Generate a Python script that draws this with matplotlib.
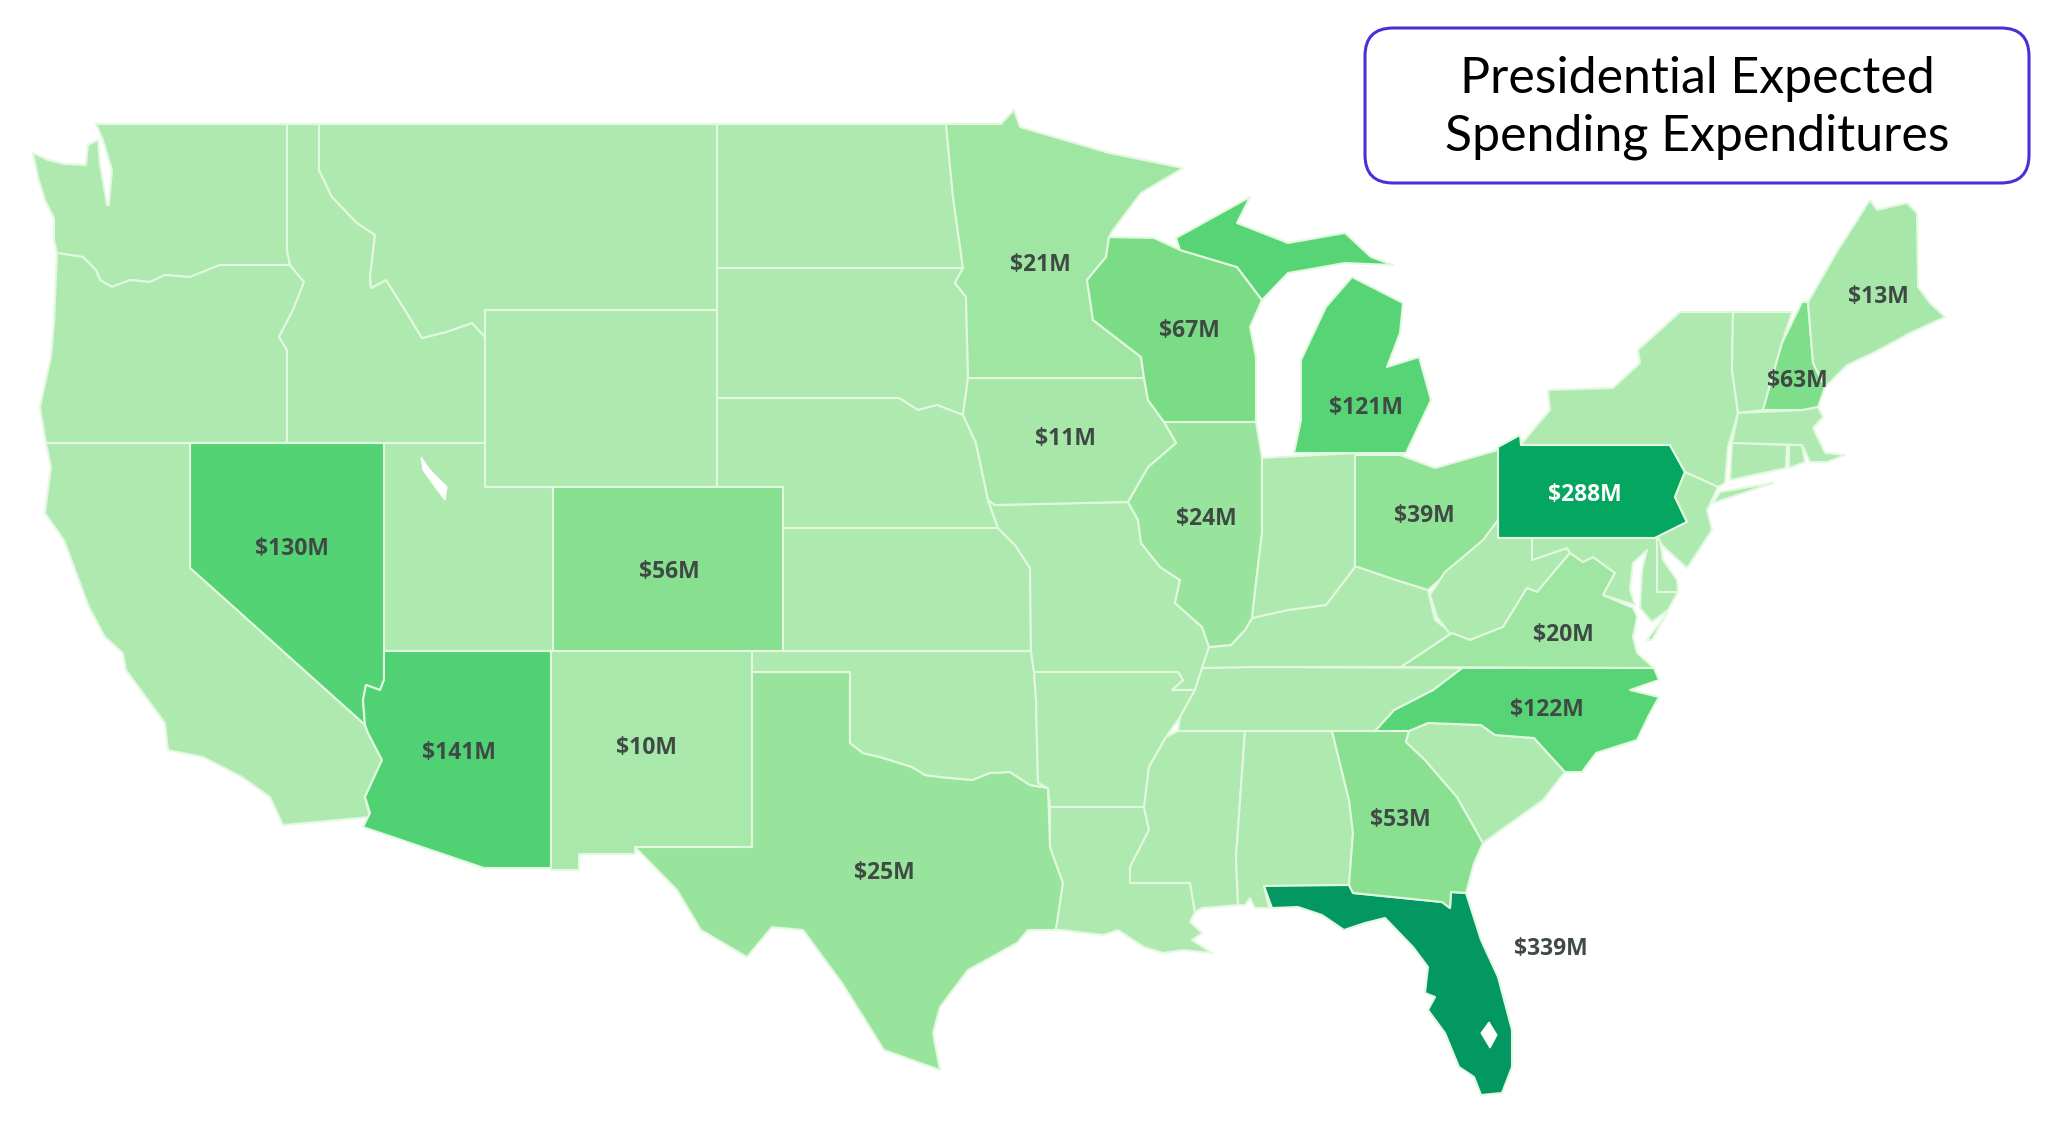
import matplotlib
matplotlib.use('Agg')
import matplotlib.pyplot as plt
from matplotlib.colors import LinearSegmentedColormap
from matplotlib.patches import FancyBboxPatch

# state outlines (picture pixels)
WA = [(96,124),(287,124),(287,250),(290,265),(220,265),(190,277),(165,275),(150,282),(130,280),(112,287),(100,280),(96,270),(83,257),(57,253),(54,240),(54,218),(45,200),(38,177),(33,153),(48,160),(64,164),(86,165),(88,145),(98,140),(100,165),(107,205),(109,205),(112,170),(103,140)]
OR = [(57,253),(83,257),(96,270),(100,280),(112,287),(130,280),(150,282),(165,275),(190,277),(220,265),(290,265),(304,282),(293,310),(279,337),(287,350),(287,443),(46,443),(40,407),(51,357),(54,323)]
ID = [(287,124),(319,124),(319,170),(332,197),(357,223),(375,235),(370,277),(371,288),(386,280),(405,310),(422,338),(446,332),(472,323),(485,337),(485,443),(287,443),(287,350),(279,337),(293,310),(304,282),(290,265),(287,250)]
MT = [(319,124),(717,124),(717,310),(485,310),(485,337),(472,323),(446,332),(422,338),(405,310),(386,280),(371,288),(370,277),(375,235),(357,223),(332,197),(319,170)]
WY = [(485,310),(717,310),(717,487),(485,487)]
ND = [(717,124),(946,124),(953,197),(963,268),(717,268)]
SD = [(717,268),(963,268),(955,283),(966,297),(968,378),(963,415),(937,405),(918,410),(899,398),(717,398)]
NE = [(717,398),(899,398),(918,410),(937,405),(963,415),(976,443),(988,500),(998,528),(783,528),(783,487),(717,487)]
CO = [(553,487),(783,487),(783,651),(553,651)]
UT = [(384,443),(485,443),(485,487),(553,487),(553,651),(384,651)]
NV = [(190,443),(384,443),(384,680),(380,690),(366,685),(363,700),(365,725),(190,568)]
CA = [(46,443),(190,443),(190,568),(365,725),(368,733),(382,760),(365,797),(370,817),(283,825),(270,797),(242,777),(203,757),(168,750),(165,723),(126,670),(123,653),(105,637),(89,607),(64,540),(45,513),(51,467)]
AZ = [(384,651),(551,651),(551,868),(484,868),(363,827),(370,813),(365,797),(382,760),(368,733),(365,725),(363,700),(366,685),(380,690),(384,680)]
NM = [(551,651),(752,651),(752,847),(635,847),(635,854),(579,854),(579,870),(551,870)]
TX = [(752,672),(850,672),(850,743),(863,753),(880,757),(912,767),(925,775),(940,777),(972,780),(990,773),(1010,772),(1030,785),(1048,788),(1050,847),(1063,883),(1056,930),(1028,930),(1017,943),(968,970),(940,1007),(933,1033),(940,1070),(884,1050),(842,983),(803,930),(772,927),(747,957),(701,930),(677,890),(635,847),(752,847)]
OK = [(752,651),(1031,651),(1034,672),(1036,700),(1038,783),(1048,788),(1030,785),(1010,772),(990,773),(972,780),(940,777),(925,775),(912,767),(880,757),(863,753),(850,743),(850,672),(752,672)]
KS = [(783,528),(998,528),(1015,545),(1030,568),(1031,651),(783,651)]
MO = [(995,505),(1128,502),(1138,520),(1141,543),(1160,567),(1180,580),(1175,603),(1202,627),(1209,647),(1202,668),(1195,690),(1172,690),(1183,680),(1178,672),(1034,672),(1031,651),(1030,568),(1015,545),(998,528),(988,500)]
AR = [(1034,672),(1178,672),(1183,680),(1172,690),(1195,690),(1180,717),(1166,737),(1149,767),(1144,807),(1050,807),(1048,788),(1038,783),(1036,700)]
LA = [(1050,807),(1144,807),(1149,830),(1130,867),(1130,883),(1190,883),(1195,912),(1190,922),(1202,933),(1192,940),(1212,953),(1183,950),(1163,953),(1144,947),(1118,930),(1103,935),(1062,930),(1056,930),(1063,883),(1050,847)]
MS = [(1178,731),(1245,731),(1236,857),(1238,905),(1202,908),(1195,912),(1190,883),(1130,883),(1130,867),(1149,830),(1144,807),(1149,767),(1166,737)]
AL = [(1245,731),(1332,731),(1349,800),(1353,833),(1349,885),(1264,886),(1269,908),(1255,908),(1250,898),(1245,905),(1238,905),(1236,857)]
FL = [(1264,886),(1349,885),(1353,893),(1442,902),(1450,908),(1451,892),(1466,893),(1481,940),(1498,977),(1512,1030),(1512,1067),(1502,1093),(1481,1095),(1474,1077),(1459,1067),(1445,1033),(1428,1010),(1435,997),(1425,993),(1428,967),(1413,947),(1385,918),(1365,923),(1344,930),(1322,915),(1298,907),(1272,908)]
GA = [(1332,731),(1409,731),(1406,742),(1425,760),(1457,797),(1483,843),(1474,863),(1466,893),(1451,892),(1450,908),(1442,902),(1353,893),(1349,885),(1353,833),(1349,800)]
SC = [(1409,731),(1428,723),(1481,725),(1495,735),(1534,738),(1565,772),(1543,800),(1505,827),(1483,843),(1457,797),(1425,760),(1406,742)]
NC = [(1375,731),(1394,710),(1433,690),(1462,668),(1654,668),(1659,680),(1630,690),(1659,697),(1649,715),(1637,740),(1596,753),(1582,772),(1565,772),(1534,738),(1495,735),(1481,725),(1428,723),(1409,731)]
TN = [(1202,668),(1250,667),(1462,668),(1433,690),(1394,710),(1375,731),(1178,731),(1180,717),(1195,690)]
KY = [(1209,647),(1231,645),(1245,630),(1252,618),(1288,610),(1326,605),(1355,567),(1358,567),(1396,580),(1428,590),(1435,620),(1452,633),(1401,667),(1250,667),(1202,668)]
IL = [(1164,422),(1256,422),(1262,458),(1262,533),(1256,583),(1252,618),(1245,630),(1231,645),(1209,647),(1202,627),(1175,603),(1180,580),(1160,567),(1141,543),(1138,520),(1128,502),(1148,467),(1176,443)]
IA = [(968,378),(1144,378),(1148,400),(1164,422),(1176,443),(1148,467),(1128,502),(995,505),(988,500),(976,443),(963,415)]
MN = [(946,124),(1001,124),(1014,110),(1020,127),(1109,153),(1183,168),(1141,193),(1113,230),(1109,237),(1106,257),(1087,280),(1093,320),(1141,357),(1144,378),(968,378),(966,297),(955,283),(963,268),(953,197)]
WI = [(1109,237),(1154,238),(1180,250),(1237,267),(1262,300),(1250,327),(1256,357),(1256,422),(1164,422),(1148,400),(1144,378),(1141,357),(1093,320),(1087,280),(1106,257)]
MI_UP = [(1176,238),(1250,197),(1237,223),(1288,243),(1345,233),(1371,257),(1393,265),(1345,263),(1288,273),(1262,300),(1237,267),(1180,250)]
MI_LP = [(1352,277),(1403,303),(1400,333),(1387,367),(1419,357),(1431,400),(1406,453),(1294,453),(1301,420),(1301,360),(1326,307)]
IN = [(1262,458),(1355,453),(1355,567),(1326,605),(1288,610),(1252,618),(1256,583),(1262,533)]
OH = [(1355,455),(1400,455),(1435,468),(1498,450),(1498,538),(1454,567),(1428,590),(1396,580),(1358,567),(1355,567)]
PA = [(1498,447),(1520,435),(1521,445),(1670,445),(1685,472),(1675,497),(1687,522),(1655,538),(1498,538)]
NY = [(1523,442),(1550,410),(1548,390),(1613,388),(1640,363),(1638,350),(1680,312),(1733,312),(1732,370),(1738,413),(1728,447),(1725,483),(1718,487),(1685,472),(1670,445),(1521,445)]
LONG_ISLAND = [(1720,492),(1773,483),(1713,503)]
NJ = [(1685,472),(1718,487),(1707,510),(1712,530),(1687,568),(1665,548),(1655,538),(1687,522),(1675,497)]
VT = [(1733,312),(1792,312),(1782,343),(1763,410),(1738,413),(1732,370)]
NH = [(1802,302),(1808,302),(1813,363),(1825,387),(1818,407),(1803,410),(1763,410),(1782,343)]
ME = [(1808,302),(1838,250),(1870,200),(1877,210),(1907,203),(1917,213),(1918,287),(1930,303),(1945,317),(1910,333),(1873,353),(1847,365),(1825,387),(1813,363)]
MA = [(1738,413),(1803,410),(1818,407),(1823,417),(1813,428),(1825,453),(1845,455),(1827,462),(1810,462),(1802,445),(1732,443)]
CT = [(1732,443),(1787,445),(1786,468),(1730,480)]
RI = [(1789,445),(1802,445),(1805,462),(1789,468)]
WV = [(1498,520),(1498,538),(1532,538),(1532,560),(1567,548),(1570,553),(1537,592),(1527,588),(1503,627),(1470,640),(1453,638),(1437,617),(1430,595),(1445,572),(1463,557),(1483,540)]
VA = [(1401,667),(1452,633),(1470,640),(1503,627),(1527,588),(1537,592),(1570,553),(1583,562),(1593,557),(1615,573),(1603,595),(1633,608),(1637,617),(1633,637),(1637,653),(1654,668)]
VA_SHORE = [(1647,640),(1667,613),(1652,640)]
MD = [(1532,538),(1657,538),(1657,592),(1678,592),(1668,610),(1652,622),(1640,608),(1642,570),(1647,550),(1633,563),(1630,590),(1635,605),(1603,595),(1615,573),(1593,557),(1583,562),(1570,553),(1567,548),(1532,560)]
DE = [(1657,538),(1660,540),(1663,560),(1677,580),(1678,592),(1657,592)]
SALT_LAKE = [(421,457),(430,470),(447,487),(445,500),(435,487),(423,470)]
OKEECHOBEE = [(1489,1022),(1481,1033),(1490,1048),(1497,1035)]

state_shapes = [WA, OR, ID, MT, WY, ND, SD, NE, CO, UT, NV, CA, AZ, NM, TX, OK, KS, MO, AR, LA, MS, AL, FL, GA, SC, NC, TN, KY, IL, IA, MN, WI, MI_UP, MI_LP, IN, OH, PA, NY, LONG_ISLAND, NJ, VT, NH, ME, MA, CT, RI, WV, VA, VA_SHORE, MD, DE]
state_values = [0, 0, 0, 0, 0, 0, 0, 0, 56, 0, 130, 0, 141, 10, 25, 0, 0, 0, 0, 0, 0, 0, 339, 53, 0, 122, 0, 0, 24, 11, 21, 67, 121, 121, 0, 39, 288, 0, 0, 0, 0, 63, 13, 0, 0, 0, 0, 20, 20, 0, 0]

# labelled states
label_values = [21, 67, 121, 13, 63, 11, 288, 24, 39, 130, 56, 20, 122, 141, 10, 53, 25, 339]
label_x = [1039, 1188, 1365, 1877, 1796, 1064, 1584, 1205, 1423, 291, 668, 1562, 1546, 458, 645, 1399, 883, 1550]
label_y = [262, 328, 405, 294, 378, 436, 492, 516, 513, 546, 569, 632, 707, 750, 745, 817, 870, 946]

# colour ramp
ramp_values = [0, 13, 25, 56, 67, 121, 141, 288, 339]
ramp_colors = ['#aeeab0', '#a6e8a9', '#98e49c', '#86e08f', '#79dd86', '#57d475', '#50d173', '#05a660', '#039762']

title_lines = 'Presidential Expected\nSpending Expenditures'

cmap = LinearSegmentedColormap.from_list(
    'spend', [(v / max(ramp_values), c) for v, c in zip(ramp_values, ramp_colors)])

fig = plt.figure(figsize=(20.46, 11.42), dpi=100)
ax = fig.add_axes([0, 0, 1, 1])
ax.set_xlim(0, 2046)
ax.set_ylim(1142, 0)
ax.axis('off')

for shape, value in zip(state_shapes, state_values):
    xs, ys = zip(*shape)
    ax.fill(xs, ys, facecolor=cmap(value / max(ramp_values)), edgecolor='#e2f8df',
            linewidth=1.5, joinstyle='round', zorder=2)

for lake in [SALT_LAKE, OKEECHOBEE]:
    xs, ys = zip(*lake)
    ax.fill(xs, ys, facecolor='white', edgecolor='white', linewidth=0.8, zorder=3)

for value, x, y in zip(label_values, label_x, label_y):
    ax.text(x + 1, y + 3, f'${value}M', ha='center', va='center', fontsize=16.5,
            family='Open Sans', weight='bold',
            color='white' if value == 288 else '#3f4a45', zorder=4)

box = FancyBboxPatch((1365, 28), 664, 155, boxstyle='round,pad=0,rounding_size=28',
                     facecolor='white', edgecolor='#4a2fd8', linewidth=2.2, zorder=5)
ax.add_patch(box)
ax.text(1697, 108, title_lines, ha='center', va='center', fontsize=36, family='Lato',
        color='black', linespacing=1.3, zorder=6)

fig.savefig('out.png', dpi=100)
